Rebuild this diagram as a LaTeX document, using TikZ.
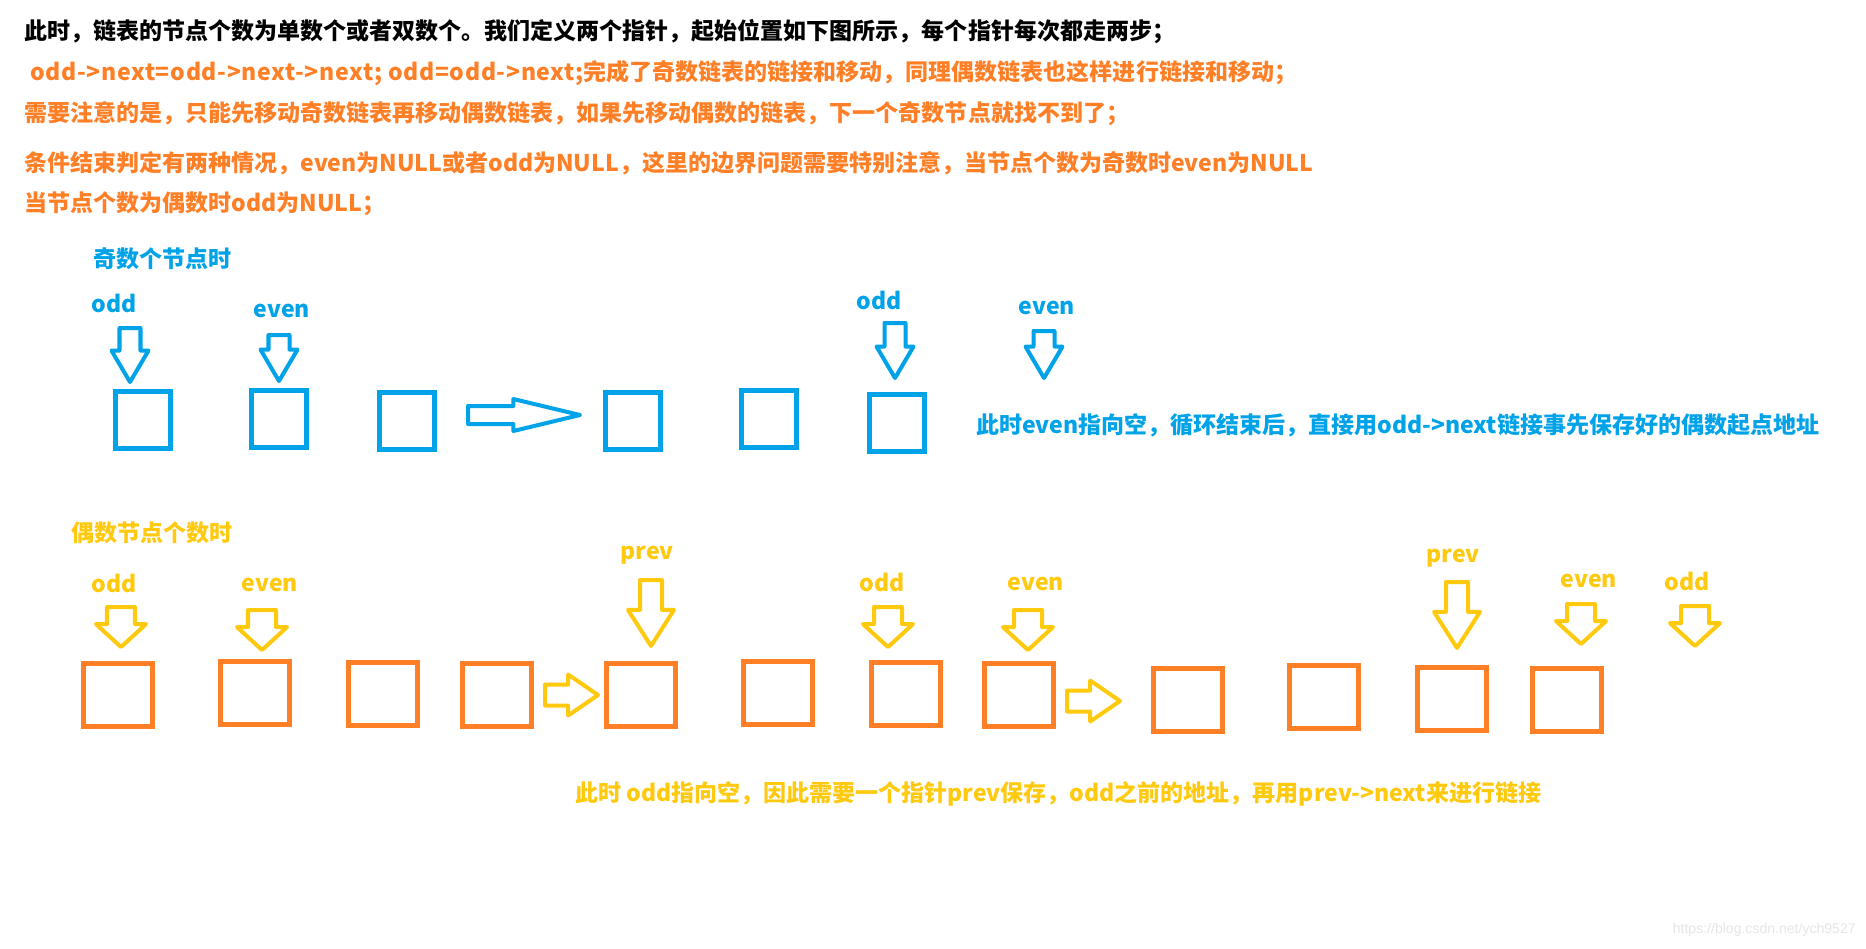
\documentclass[tikz,border=0pt]{standalone}
\usepackage{fontspec}
\usepackage{tikz}
\usetikzlibrary{shapes.arrows}
\newfontfamily\cjk{Noto Sans CJK SC}
\setsansfont{Liberation Sans}
\definecolor{paintblue}{HTML}{00A2E8}
\definecolor{paintorange}{HTML}{FF7F27}
\definecolor{paintgold}{HTML}{FFC90E}
\definecolor{wmgray}{HTML}{E6E6E6}
\tikzset{
  txt/.style={anchor=west,inner sep=0pt,font=\cjk\bfseries\fontsize{13.1pt}{15pt}\selectfont},
  lab/.style={inner sep=0pt,font=\cjk\bfseries\fontsize{13.1pt}{15pt}\selectfont},
  cell/.style={draw,line width=2.85pt,inner sep=0pt},
  bluecell/.style={cell,draw=paintblue,minimum width=1.1cm,minimum height=1.14cm},
  orcell/.style={cell,draw=paintorange,minimum width=1.38cm,minimum height=1.26cm},
  ptr/.style={single arrow,draw,line width=2.28pt,line join=round,anchor=tail,
    inner xsep=0pt,minimum width=0pt,minimum height=#1},
  bluedown/.style={ptr=#1,draw=paintblue,inner ysep=.17cm,single arrow head extend=.16cm,
    single arrow tip angle=61,rotate=-90},
  blueright/.style={ptr=2.24cm,draw=paintblue,inner ysep=.14cm,single arrow head extend=.14cm,
    single arrow tip angle=27},
  golddown/.style={ptr=.8cm,draw=paintgold,inner ysep=.24cm,single arrow head extend=.22cm,
    single arrow tip angle=95,rotate=-90},
  prevdown/.style={ptr=1.32cm,draw=paintgold,inner ysep=.18cm,single arrow head extend=.24cm,
    single arrow tip angle=65,rotate=-90},
  goldright/.style={ptr=1.06cm,draw=paintgold,inner ysep=.17cm,single arrow head extend=.2cm,
    single arrow tip angle=69},
}
\begin{document}
\begin{tikzpicture}[x=.02cm,y=-.02cm]
  \fill[white] (0,0) rectangle (1866,948);
  \useasboundingbox (0,0) rectangle (1866,948);
  % explanation lines
  \node[txt] (line1) at (24,32) {此时，链表的节点个数为单数个或者双数个。我们定义两个指针，起始位置如下图所示，每个指针每次都走两步；};
  \node[txt,text=paintorange] (line2) at (30,73) {{\addfontfeature{LetterSpace=3}odd->next=odd->next->next; odd=odd->next;}完成了奇数链表的链接和移动，同理偶数链表也这样进行链接和移动；};
  \node[txt,text=paintorange] (line3) at (24,114) {需要注意的是，只能先移动奇数链表再移动偶数链表，如果先移动偶数的链表，下一个奇数节点就找不到了；};
  \node[txt,text=paintorange] (line4) at (24,163) {条件结束判定有两种情况，even为NULL或者odd为NULL，这里的边界问题需要特别注意，当节点个数为奇数时even为NULL};
  \node[txt,text=paintorange] (line5) at (24,204) {当节点个数为偶数时odd为NULL；};

  % odd count
  \node[txt,text=paintblue] (oddtitle) at (93,259) {奇数个节点时};
  \foreach \i/\x/\y in {1/143/420,2/279/419,3/407/421,4/633/421,5/769/419,6/897/423}
    \node[bluecell] (b\i) at (\x,\y) {};
  \foreach \n/\lab/\x/\y in {oddA/odd/114/303,evenA/even/282/311,oddB/odd/879/300,evenB/even/1047/308}
    \node[lab,text=paintblue] (\n) at (\x,\y) {\lab};
  \foreach \n/\x/\y/\len in {pa1/130/326/1.08cm,pa2/279/333/.92cm,pa3/895/321/1.1cm,pa4/1044/329/.94cm}
    \node[bluedown=\len] (\n) at (\x,\y) {};
  \node[blueright] (stepA) at (466,415) {};
  \node[txt,text=paintblue] (oddnote) at (976,425) {此时even指向空，循环结束后，直接用odd->next链接事先保存好的偶数起点地址};

  % even count
  \node[txt,text=paintgold] (eventitle) at (71,533) {偶数节点个数时};
  \foreach \i/\x/\y in {1/118/695,2/255/693,3/383/694,4/497/695,5/641/695,6/778/693,
      7/906/694,8/1019/695,9/1188/700,10/1324/697,11/1452/699,12/1567/700}
    \node[orcell] (c\i) at (\x,\y) {};
  \foreach \n/\lab/\x/\y in {oddC/odd/114/583,evenC/even/270/585,prevA/prev/647/555,oddD/odd/882/582,
      evenD/even/1036/584,prevB/prev/1453/558,evenE/even/1589/581,oddE/odd/1687/581}
    \node[lab,text=paintgold] (\n) at (\x,\y) {\lab};
  \foreach \n/\x/\y in {pc1/121/605,pc2/262/608,pc4/888/605,pc5/1028/608,pc7/1581/602,pc8/1695/604}
    \node[golddown] (\n) at (\x,\y) {};
  \foreach \n/\x/\y in {pc3/651/578,pc6/1457/580}
    \node[prevdown] (\n) at (\x,\y) {};
  \node[goldright] (stepB) at (543,695) {};
  \node[goldright] (stepC) at (1065,701) {};
  \node[txt,text=paintgold] (evennote) at (575,794) {此时 odd指向空，因此需要一个指针prev保存，odd之前的地址，再用prev->next来进行链接};

  \node[anchor=east,inner sep=0pt,text=wmgray,font=\sffamily\fontsize{8pt}{9pt}\selectfont] (wm) at (1856,930) {https://blog.csdn.net/ych9527};
\end{tikzpicture}
\end{document}
